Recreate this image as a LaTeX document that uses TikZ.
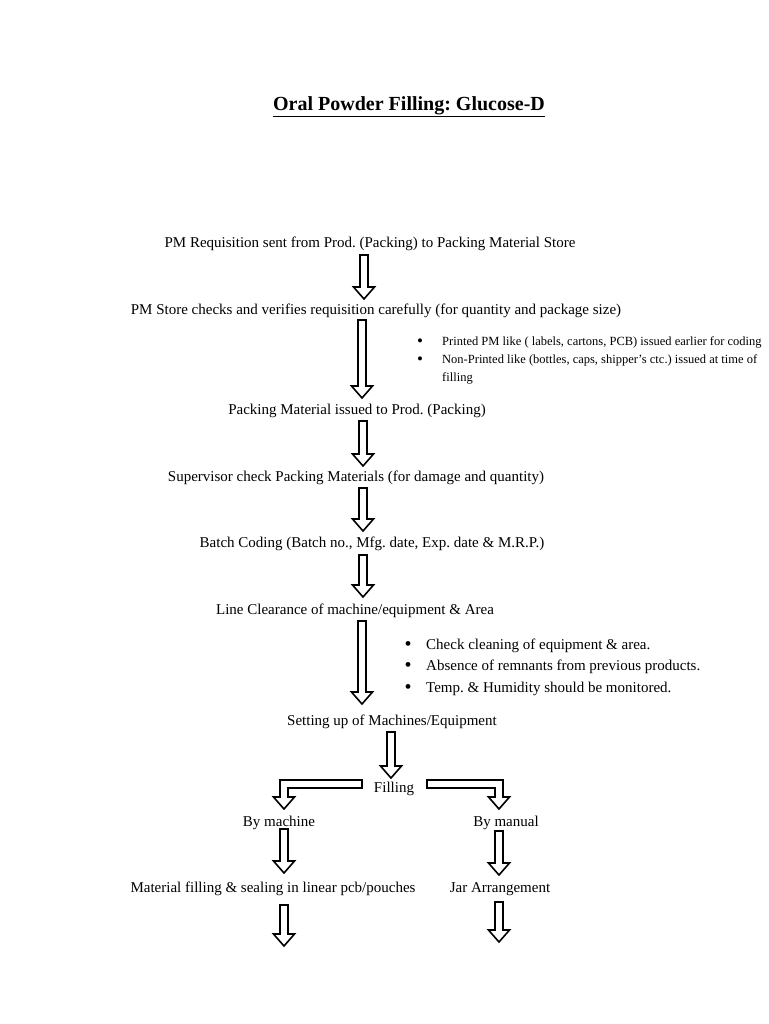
\documentclass[tikz,border=0pt]{standalone}
\usepackage{fontspec}
\setmainfont{Liberation Serif}
\usetikzlibrary{calc}
\frenchspacing
\tikzset{
  txt/.style={inner sep=0pt, font=\fontsize{15}{18}\selectfont, text height=10.2pt, text depth=3.3pt},
  smalltxt/.style={inner sep=0pt, font=\fontsize{12.5}{15}\selectfont, text height=8.5pt, text depth=2.8pt},
  dot/.style={inner sep=0pt, font=\fontsize{20}{20}\selectfont, text height=10.2pt, text depth=3.3pt},
  smalldot/.style={inner sep=0pt, font=\fontsize{17}{17}\selectfont, text height=8.5pt, text depth=2.8pt},
  titletxt/.style={inner sep=0pt, font=\fontsize{20}{24}\selectfont\bfseries},
  blockarrow/.style={draw=black, fill=white, line width=1.6pt, line join=miter}
}
\newcommand\vblock[2]{\draw[blockarrow] ($(#1)+(-4,0)$) -- ($(#2)+(-4,-12)$) -- ($(#2)+(-10.5,-12)$) -- (#2) -- ($(#2)+(10.5,-12)$) -- ($(#2)+(4,-12)$) -- ($(#1)+(4,0)$) -- cycle;}
\newcommand\bblock[4]{\draw[blockarrow] ($(#1)+(0,-4)$) -- ($(#2)+({#4*4},-4)$) -- ($(#3)+({#4*4},-12)$) -- ($(#3)+({#4*10.5},-12)$) -- (#3) -- ($(#3)+({-#4*10.5},-12)$) -- ($(#3)+({-#4*4},-12)$) -- ($(#2)+({-#4*4},4)$) -- ($(#1)+(0,4)$) -- cycle;}
\begin{document}
\begin{tikzpicture}[x=1pt,y=-1pt]
\useasboundingbox (0,0) rectangle (768,1024);
\fill[white] (0,0) rectangle (768,1024);
% title
\node[titletxt] (title) at (409,107) {\underline{Oral Powder Filling: Glucose-D}};
% steps
\node[txt] (n1) at (370,244) {PM Requisition sent from Prod. (Packing) to Packing Material Store};
\node[txt] (n2) at (376,311) {PM Store checks and verifies requisition carefully (for quantity and package size)};
\node[txt] (n3) at (357,411) {Packing Material issued to Prod. (Packing)};
\node[txt] (n4) at (356,478) {Supervisor check Packing Materials (for damage and quantity)};
\node[txt] (n5) at (372,544) {Batch Coding (Batch no., Mfg. date, Exp. date \& M.R.P.)};
\node[txt] (n6) at (355,611) {Line Clearance of machine/equipment \& Area};
\node[txt] (n7) at (392,722) {Setting up of Machines/Equipment};
\node[txt] (n8) at (394,789) {Filling};
\node[txt] (n9) at (279,823) {By machine};
\node[txt] (n10) at (506,823) {By manual};
\node[txt] (n11) at (273,889) {Material filling \& sealing in linear pcb/pouches};
\node[txt] (n12) at (500,889) {Jar Arrangement};
% bullets 1
\node[smalldot] (b1d) at (420,344) {•};
\node[smalltxt, anchor=west] (b1) at (442,343) {Printed PM like ( labels, cartons, PCB) issued earlier for coding};
\node[smalldot] (b2d) at (420,362) {•};
\node[smalltxt, anchor=west] (b2) at (442,361) {Non-Printed like (bottles, caps, shipper’s ctc.) issued at time of};
\node[smalltxt, anchor=west] (b2b) at (442,379) {filling};
% bullets 2
\node[dot] (c1d) at (408,647) {•};
\node[txt, anchor=west] (c1) at (426,646) {Check cleaning of equipment \& area.};
\node[dot] (c2d) at (408,668) {•};
\node[txt, anchor=west] (c2) at (426,667) {Absence of remnants from previous products.};
\node[dot] (c3d) at (408,690) {•};
\node[txt, anchor=west] (c3) at (426,689) {Temp. \& Humidity should be monitored.};
% arrow end points
\coordinate (a1s) at (364,255);  \coordinate (a1e) at (364,299);
\coordinate (a2s) at (362,320);  \coordinate (a2e) at (362,398);
\coordinate (a3s) at (363,421);  \coordinate (a3e) at (363,466);
\coordinate (a4s) at (363,488);  \coordinate (a4e) at (363,531);
\coordinate (a5s) at (363,555);  \coordinate (a5e) at (363,597);
\coordinate (a6s) at (362,621);  \coordinate (a6e) at (362,704);
\coordinate (a7s) at (391,732);  \coordinate (a7e) at (391,778);
\coordinate (bls) at (362,784);  \coordinate (blc) at (284,784); \coordinate (ble) at (284,809);
\coordinate (brs) at (427,784);  \coordinate (brc) at (499,784); \coordinate (bre) at (499,809);
\coordinate (a8s) at (284,829);  \coordinate (a8e) at (284,873);
\coordinate (a9s) at (499,831);  \coordinate (a9e) at (499,875);
\coordinate (a10s) at (284,905); \coordinate (a10e) at (284,946);
\coordinate (a11s) at (499,902); \coordinate (a11e) at (499,942);
% arrows
\vblock{a1s}{a1e}
\vblock{a2s}{a2e}
\vblock{a3s}{a3e}
\vblock{a4s}{a4e}
\vblock{a5s}{a5e}
\vblock{a6s}{a6e}
\vblock{a7s}{a7e}
\bblock{bls}{blc}{ble}{-1}
\bblock{brs}{brc}{bre}{1}
\vblock{a8s}{a8e}
\vblock{a9s}{a9e}
\vblock{a10s}{a10e}
\vblock{a11s}{a11e}
\end{tikzpicture}
\end{document}
